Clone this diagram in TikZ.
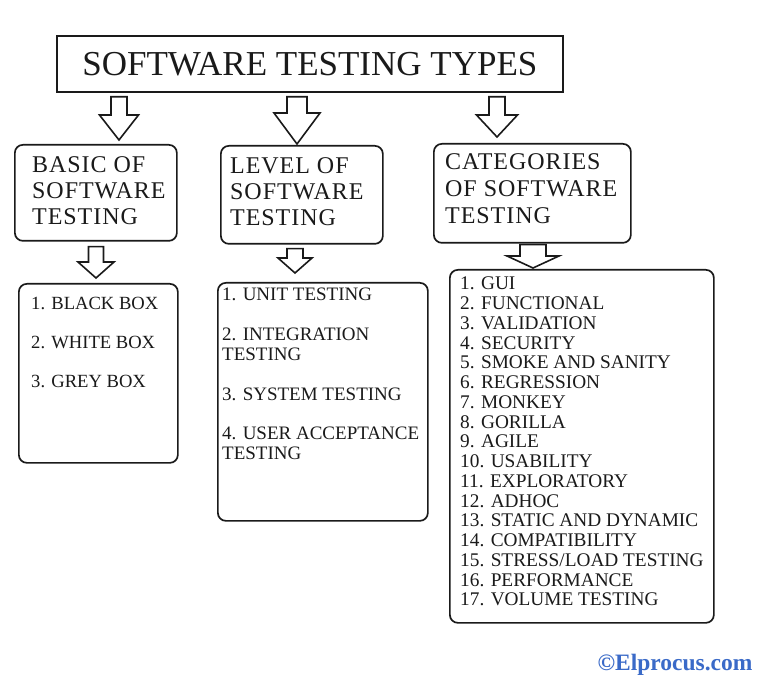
\documentclass[tikz,border=0pt]{standalone}
\usepackage{fontspec}
\setmainfont{Liberation Serif}
\usetikzlibrary{calc}
\definecolor{ink}{HTML}{1A1A1A}
\definecolor{elblue}{HTML}{3A6AC8}
\tikzset{
  rbox/.style={draw=ink, line width=1.7pt, rounded corners=8pt, inner sep=0pt, anchor=north west},
  blk/.style={draw=ink, line width=1.6pt, fill=white, line join=miter},
  htext/.style={anchor=north west, inner sep=0pt, align=left, text=ink,
    font=\fontsize{24}{26}\selectfont\addfontfeature{LetterSpace=4}},
  ltext/.style={anchor=north west, inner sep=0pt, align=left, text=ink,
    font=\fontsize{19.3}{19.75}\selectfont}
}
\newcommand\blockarr[8]{%
  \draw[blk] let \p1=(#1,0 |- #2.south), \p2=(#1,0 |- #3.north) in
    (\x1-#6,\y1-#4) -- (\x1-#6,\y2+#5+#8) -- (\x1-#7,\y2+#5+#8) -- (\x1,\y2+#5)
    -- (\x1+#7,\y2+#5+#8) -- (\x1+#6,\y2+#5+#8) -- (\x1+#6,\y1-#4) -- cycle;}
\begin{document}
\begin{tikzpicture}[x=1pt,y=-1pt]
\useasboundingbox[fill=white] (0,0) rectangle (768,700);
% title
\node[draw=ink, line width=1.8pt, minimum width=506pt, minimum height=56pt, inner sep=0pt,
  anchor=north west, text=ink, font=\fontsize{35}{38}\selectfont]
  (title) at (56,35) {SOFTWARE TESTING TYPES};
% heading boxes
\node[rbox, minimum width=162pt, minimum height=96pt] (b1) at (14,144) {};
\node[rbox, minimum width=162pt, minimum height=98pt] (b2) at (220,145) {};
\node[rbox, minimum width=197pt, minimum height=99pt] (b3) at (433,143) {};
\node[htext] (h1) at (32,156) {BASIC OF\\SOFTWARE\\TESTING};
\node[htext] (h2) at (230,157) {LEVEL OF\\SOFTWARE\\TESTING};
\node[htext, font=\fontsize{24}{27}\selectfont\addfontfeature{LetterSpace=4}] (h3) at (445,153) {CATEGORIES\\OF SOFTWARE\\TESTING};
% list boxes
\node[rbox, minimum width=159pt, minimum height=179pt] (b4) at (18,283) {};
\node[rbox, minimum width=210pt, minimum height=238pt] (b5) at (217,282) {};
\node[rbox, minimum width=264pt, minimum height=353pt] (b6) at (449,269) {};
\node[ltext, font=\fontsize{18.6}{39}\selectfont] (l4) at (31,297)
  {1. BLACK BOX\\2. WHITE BOX\\3. GREY BOX};
\node[ltext, font=\fontsize{19}{20}\selectfont] (l5) at (222,288)
  {1. UNIT TESTING\\[20pt]2. INTEGRATION\\TESTING\\[20pt]3. SYSTEM TESTING\\[19pt]4. USER ACCEPTANCE\\TESTING};
\node[ltext] (l6) at (460,277)
  {1. GUI\\2. FUNCTIONAL\\3. VALIDATION\\4. SECURITY\\5. SMOKE AND SANITY\\6. REGRESSION\\7. MONKEY\\8. GORILLA\\9. AGILE\\10. USABILITY\\11. EXPLORATORY\\12. ADHOC\\13. STATIC AND DYNAMIC\\14. COMPATIBILITY\\15. STRESS/LOAD TESTING\\16. PERFORMANCE\\17. VOLUME TESTING};
% block arrows
\blockarr{119}{title}{b1}{4pt}{4pt}{8pt}{19.5pt}{25pt}
\blockarr{297}{title}{b2}{4pt}{1pt}{10pt}{23pt}{31pt}
\blockarr{497}{title}{b3}{4pt}{6pt}{8pt}{20.5pt}{22pt}
\blockarr{96}{b1}{b4}{5pt}{5pt}{7.5pt}{18pt}{16pt}
\blockarr{295}{b2}{b5}{4pt}{9pt}{8pt}{17pt}{15pt}
\blockarr{533}{b3}{b6}{1pt}{1pt}{13pt}{26pt}{12pt}
% copyright
\node[text=elblue, font=\fontsize{23.5}{25}\selectfont\bfseries, inner sep=0pt] (copy) at (675,665) {©Elprocus.com};
\end{tikzpicture}
\end{document}
